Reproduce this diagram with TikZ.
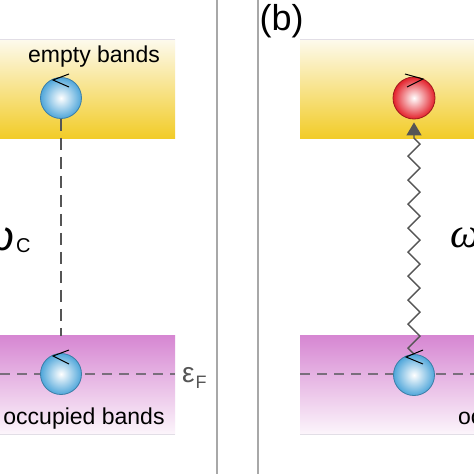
\documentclass[tikz,border=0pt]{standalone}
\usepackage{fontspec}
\setmainfont{Liberation Sans}
\newfontfamily\omegaserif{Liberation Serif}
\usetikzlibrary{arrows.meta,decorations.pathmorphing}
\definecolor{ytop}{HTML}{FDFAEE}
\definecolor{ymid}{HTML}{F7E07A}
\definecolor{ybot}{HTML}{F2CC28}
\definecolor{ptop}{HTML}{D686D2}
\definecolor{pmid}{HTML}{EDC2EA}
\definecolor{pbot}{HTML}{FCF5FB}
\definecolor{ballblue}{HTML}{4FA6DA}
\definecolor{blueedge}{HTML}{3C7EA6}
\definecolor{ballred}{HTML}{E3202A}
\definecolor{rededge}{HTML}{9E1A1E}
\definecolor{lgray}{HTML}{A8A8A8}
\definecolor{dgray}{HTML}{555555}
\definecolor{fgray}{HTML}{7A6E7C}
\definecolor{edgeline}{HTML}{E2DEE6}
\begin{document}
\begin{tikzpicture}[x=1pt,y=-1pt,
  bandtext/.style={inner sep=0pt,font=\fontsize{23}{27}\selectfont},
  blueball/.style={circle,minimum size=41pt,inner sep=0pt,draw=blueedge,line width=0.8pt,shading=radial,inner color=white,outer color=ballblue},
  redball/.style={circle,minimum size=42pt,inner sep=0pt,draw=rededge,line width=0.8pt,shading=radial,inner color=white,outer color=ballred},
  sep/.style={draw=lgray,line width=1.6pt},
  fermi/.style={draw=fgray,line width=1.1pt,dash pattern=on 10pt off 7pt},
  virt/.style={draw=dgray,line width=1.8pt,dash pattern=on 12pt off 7pt},
  spin/.style={draw=black,line width=1pt},
  zig/.style={draw=dgray,line width=1.3pt,decorate,decoration={zigzag,segment length=24pt,amplitude=6pt,post length=14pt},-{Triangle[length=13pt,width=15pt]},shorten >=3pt}
]
\useasboundingbox (0,0) rectangle (474,474);
\clip (0,0) rectangle (474,474);
\fill[white] (0,0) rectangle (474,474);
% separators
\draw[sep] (217,0) -- (217,474);
\draw[sep] (258,0) -- (258,474);
% bands left
\shade[top color=ytop,middle color=ymid,bottom color=ybot] (0,39) rectangle (175,138);
\draw[edgeline,line width=0.8pt] (0,39) -- (175,39);
\shade[top color=ptop,middle color=pmid,bottom color=pbot] (0,335) rectangle (175,434);
\draw[edgeline,line width=0.8pt] (0,434) -- (175,434);
% bands right
\shade[top color=ytop,middle color=ymid,bottom color=ybot] (300,39) rectangle (480,138);
\draw[edgeline,line width=0.8pt] (300,39) -- (480,39);
\shade[top color=ptop,middle color=pmid,bottom color=pbot] (300,335) rectangle (480,434);
\draw[edgeline,line width=0.8pt] (300,434) -- (480,434);
% fermi lines
\draw[fermi] (0,374) -- (175,374);
\draw[fermi] (300,374) -- (480,374);
% texts
\node[bandtext,anchor=base] (eb) at (94,62) {empty bands};
\node[bandtext,anchor=base] (ob) at (84,424) {occupied bands};
\node[bandtext,anchor=base west] (ob2) at (458,424) {occupied bands};
\node[inner sep=0pt,anchor=base west,font=\fontsize{36}{40}\selectfont] (lab) at (259.5,30) {(b)};
\node[inner sep=0pt,anchor=base west,text=dgray,font=\fontsize{28}{30}\selectfont] (ef) at (182,382) {ε};
\node[inner sep=0pt,anchor=base west,text=dgray,font=\fontsize{18}{20}\selectfont] (efs) at (195.5,388) {F};
\node[inner sep=0pt,anchor=base east,font=\fontsize{42}{44}\selectfont\itshape] (wc) at (14.5,250) {ω};
\node[inner sep=0pt,anchor=base west,font=\fontsize{20}{22}\selectfont] (wcs) at (16,252) {C};
\node[inner sep=0pt,anchor=base west,font=\omegaserif\fontsize{42}{44}\selectfont\itshape] (w2) at (450,247) {ω};
% balls
\node[blueball] (lt) at (61,98) {};
\node[blueball] (lb) at (61,374) {};
\node[redball] (rt) at (414,98) {};
\node[blueball] (rb) at (414,375) {};
% connectors
\draw[virt,shorten >=17pt] (lt.south) -- (lb.north);
\draw[zig] (rb.north) -- (rt.south);
% spin marks
\draw[spin] (69,74) -- (53,80) -- (69,87);
\draw[spin] (405,74) -- (423,79) -- (407,87);
\draw[spin] (69,350) -- (53,356) -- (69,364);
\draw[spin] (423,350) -- (406,357) -- (423,364);
\end{tikzpicture}
\end{document}
